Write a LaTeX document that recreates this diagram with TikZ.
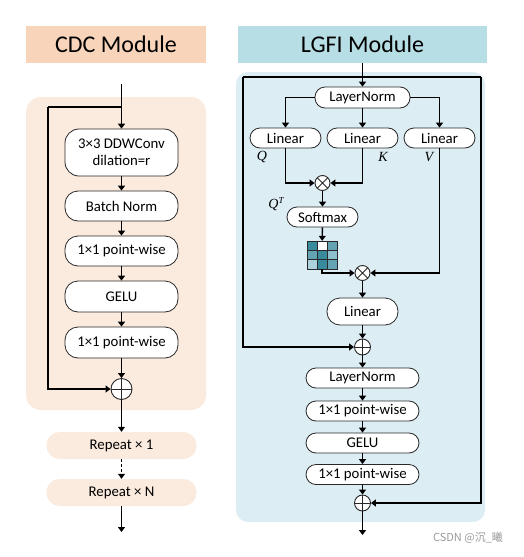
\documentclass[tikz,border=0pt]{standalone}
\usepackage{fontspec}
\setmainfont{Carlito}
\newfontfamily\cjkfont{Noto Sans CJK SC}
\newfontfamily\lblfont{Liberation Serif}
\usetikzlibrary{arrows.meta}
\definecolor{cdctitle}{RGB}{248,213,186}
\definecolor{cdcbg}{RGB}{251,234,222}
\definecolor{lgtitle}{RGB}{183,221,229}
\definecolor{lgbg}{RGB}{220,237,243}
\definecolor{mdk}{RGB}{58,138,158}
\definecolor{mmd}{RGB}{100,163,180}
\definecolor{mlt}{RGB}{140,192,205}
\definecolor{mvl}{RGB}{172,211,221}
\definecolor{edge}{RGB}{40,40,40}
\begin{document}
\begin{tikzpicture}[x=1pt,y=-1pt,
  blk/.style={draw=edge, line width=0.8pt, fill=white, inner sep=0pt, align=center,
    font=\fontsize{14.8}{17}\selectfont, rounded corners=10pt},
  rep/.style={fill=cdcbg, inner sep=0pt, rounded corners=13pt, minimum width=150pt,
    minimum height=27pt, font=\fontsize{14.8}{17}\selectfont},
  conn/.style={line width=1.4pt, -{Triangle[width=7pt,length=5pt]}},
  plain/.style={line width=1.4pt},
  opl/.style={circle, draw=edge, line width=0.9pt, fill=white, inner sep=0pt, minimum size=#1,
    path picture={\draw[line width=0.9pt] (path picture bounding box.north) -- (path picture bounding box.south)
      (path picture bounding box.west) -- (path picture bounding box.east);}},
  otm/.style={circle, draw=edge, line width=0.9pt, fill=white, inner sep=0pt, minimum size=#1,
    path picture={\draw[line width=0.9pt] (path picture bounding box.north west) -- (path picture bounding box.south east)
      (path picture bounding box.south west) -- (path picture bounding box.north east);}},
  ttl/.style={inner sep=0pt, font=\fontsize{24}{28}\selectfont, minimum height=37pt},
  lbl/.style={inner sep=0pt, font=\lblfont\itshape\fontsize{14}{14}\selectfont}
]
\useasboundingbox (0,0) rectangle (524,557);

% ---------------- CDC ----------------
\node[ttl, fill=cdctitle, minimum width=180pt] (ctitle) at (116,44.5) {CDC Module};
\fill[cdcbg, rounded corners=15pt] (26,97) rectangle (206,410);

\node[blk, minimum width=113pt, minimum height=47pt, rounded corners=14pt] (c1) at (121.5,152.5) {3×3 DDWConv\\dilation=r};
\node[blk, minimum width=113pt, minimum height=30pt, rounded corners=13pt] (c2) at (121.5,206) {Batch Norm};
\node[blk, minimum width=113pt, minimum height=30pt, rounded corners=13pt] (c3) at (121.5,251) {1×1 point-wise};
\node[blk, minimum width=113pt, minimum height=31pt, rounded corners=13pt] (c4) at (121.5,296.5) {GELU};
\node[blk, minimum width=113pt, minimum height=31pt, rounded corners=13pt] (c5) at (121.5,342.5) {1×1 point-wise};
\node[opl=21pt] (cp) at (121.5,389) {};
\node[rep] (r1) at (121.5,445.5) {Repeat × 1};
\node[rep] (r2) at (121.5,492.5) {Repeat × N};

\coordinate (cin) at (121.5,84);
\coordinate (cbr) at (121.5,107);
\coordinate (cleft) at (48,107);
\coordinate (cout) at (121.5,532);

\draw[conn] (cin) -- (c1);
\draw[plain] (cbr) -- (cleft);
\draw[conn] (cleft) |- (cp);
\draw[conn] (c1) -- (c2);
\draw[conn] (c2) -- (c3);
\draw[conn] (c3) -- (c4);
\draw[conn] (c4) -- (c5);
\draw[conn] (c5) -- (cp);
\draw[conn] (cp) -- (r1);
\draw[conn, dash pattern=on 3pt off 2pt] (r1) -- (r2);
\draw[conn] (r2) -- (cout);

% ---------------- LGFI ----------------
\node[ttl, fill=lgtitle, minimum width=249pt] (ltitle) at (362.5,44.5) {LGFI Module};
\fill[lgbg, rounded corners=12pt] (236,72) rectangle (485,522);

\node[blk, minimum width=95pt, minimum height=21pt] (ln1) at (362.5,97.5) {LayerNorm};
\node[blk, minimum width=71pt, minimum height=20pt] (lq) at (285.5,138) {Linear};
\node[blk, minimum width=71pt, minimum height=20pt] (lk) at (362.5,138) {Linear};
\node[blk, minimum width=71pt, minimum height=20pt] (lv) at (439.5,138) {Linear};
\node[lbl] (tq) at (262,157) {Q};
\node[lbl] (tk) at (383,157) {K};
\node[lbl] (tv) at (429,157) {V};
\node[otm=15pt] (ot1) at (322.5,183) {};
\node[lbl] (tqt) at (276,204) {Q\raisebox{0.7ex}{\fontsize{9}{9}\selectfont T}};
\node[blk, minimum width=71pt, minimum height=20pt] (sm) at (322.5,217) {Softmax};
\node[draw=none, minimum width=30pt, minimum height=28pt, inner sep=0pt] (mat) at (322,255) {};
% matrix cells
\fill[mdk] (307,241) rectangle (317,250.33);
\fill[white] (317,241) rectangle (327,250.33);
\fill[mmd] (327,241) rectangle (337,250.33);
\fill[mmd] (307,250.33) rectangle (317,259.67);
\fill[mdk] (317,250.33) rectangle (327,259.67);
\fill[mlt] (327,250.33) rectangle (337,259.67);
\fill[mvl] (307,259.67) rectangle (317,269);
\fill[mdk] (317,259.67) rectangle (327,269);
\fill[mmd] (327,259.67) rectangle (337,269);
\draw[edge, line width=0.6pt] (307,241) rectangle (337,269)
  (317,241) -- (317,269) (327,241) -- (327,269)
  (307,250.33) -- (337,250.33) (307,259.67) -- (337,259.67);

\node[otm=15pt] (ot2) at (362.5,273) {};
\node[blk, minimum width=71pt, minimum height=27pt, rounded corners=13pt] (l2) at (362.5,311.5) {Linear};
\node[opl=16pt] (p2) at (362.5,347) {};
\node[blk, minimum width=113pt, minimum height=20pt] (ln2) at (362.5,378) {LayerNorm};
\node[blk, minimum width=113pt, minimum height=20pt] (pw1) at (362.5,411) {1×1 point-wise};
\node[blk, minimum width=113pt, minimum height=20pt] (ge) at (362.5,443) {GELU};
\node[blk, minimum width=113pt, minimum height=20pt] (pw2) at (362.5,474.5) {1×1 point-wise};
\node[opl=16pt] (p3) at (362.5,503) {};

\coordinate (ltop) at (362.5,77);
\coordinate (lleft) at (243,77);
\coordinate (lright) at (481,77);
\coordinate (lout) at (362.5,535);

\draw[conn] (ltitle) -- (ln1);
\draw[plain] (ltop) -- (lleft);
\draw[conn] (lleft) |- (p2);
\draw[plain] (ltop) -- (lright);
\draw[conn] (lright) |- (p3);
\draw[conn] (ln1.west) -| (lq);
\draw[conn] (ln1) -- (lk);
\draw[conn] (ln1.east) -| (lv);
\draw[conn] (lq) |- (ot1);
\draw[conn] (lk) |- (ot1);
\draw[conn] (ot1) -- (sm);
\draw[conn] (sm) -- (mat);
\draw[conn] (mat) |- (ot2);
\draw[conn] (lv) |- (ot2);
\draw[conn] (ot2) -- (l2);
\draw[conn] (l2) -- (p2);
\draw[conn] (p2) -- (ln2);
\draw[conn] (ln2) -- (pw1);
\draw[conn] (pw1) -- (ge);
\draw[conn] (ge) -- (pw2);
\draw[conn] (pw2) -- (p3);
\draw[conn] (p3) -- (lout);

\node[inner sep=0pt, text=black!40, font=\cjkfont\fontsize{11}{11}\selectfont] (wm) at (468,538) {CSDN @沉\_曦};
\end{tikzpicture}
\end{document}
